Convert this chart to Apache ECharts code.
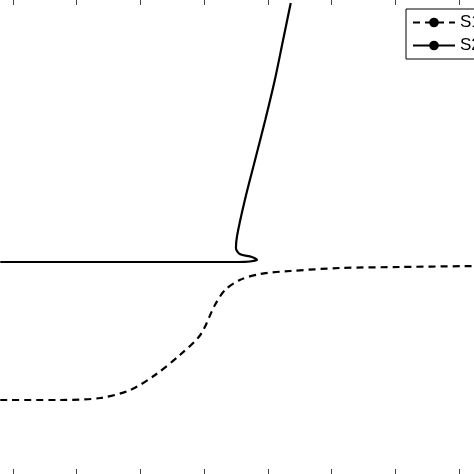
<!DOCTYPE html><html><head><meta charset="utf-8">
<script src="https://cdn.jsdelivr.net/npm/echarts@6/dist/echarts.min.js"></script>
<style>html,body{margin:0;padding:0;background:#fff}#c{width:474px;height:474px}</style></head><body><div id="c"></div>
<script>
const seriesNames=['S1','S2'];
const tickValues=[1,2,3,4,5,6,7,8];
const dashedX=[0.80,1.74,2.37,2.84,3.23,3.62,3.94,4.17,4.33,4.56,4.88,5.35,6.13,7.08,8.24];
const dashedY=[0.74,0.74,0.76,0.84,0.99,1.19,1.39,1.69,1.84,1.94,2.00,2.03,2.06,2.07,2.08];
const solidX=[0.80,4.53,4.72,4.83,4.75,4.56,4.50,4.52,4.64,4.80,4.96,5.11,5.24,5.36];
const solidY=[2.12,2.12,2.125,2.14,2.17,2.20,2.26,2.39,2.74,3.14,3.54,3.94,4.34,4.71];
const zip=(a,b)=>a.map((v,i)=>[v,b[i]]);
const ax={type:'value',min:0.796,max:8.237,axisLine:{show:false},axisLabel:{show:false},splitLine:{show:false},axisTick:{inside:true,length:5,customValues:tickValues,lineStyle:{color:'#444'}}};
const ch=echarts.init(document.getElementById('c'));
ch.setOption({animation:false,
grid:{left:0,top:0,right:0,bottom:0,containLabel:false},
xAxis:[Object.assign({position:'bottom'},ax),Object.assign({position:'top'},ax)],
yAxis:{type:'value',min:0,max:4.74,show:false},
legend:{left:406,top:9,orient:'vertical',itemWidth:42,itemHeight:12,itemGap:6,padding:[5,4,5,6],borderColor:'#000',borderWidth:1,backgroundColor:'#fff',textStyle:{fontFamily:'Liberation Sans',fontSize:17,color:'#000'},data:seriesNames},
series:[
{name:seriesNames[0],type:'line',symbol:'none',smooth:0.3,data:zip(dashedX,dashedY),lineStyle:{color:'#000',width:2.2,type:[7,5]},itemStyle:{color:'#000'}},
{name:seriesNames[1],type:'line',symbol:'none',smooth:0.3,data:zip(solidX,solidY),lineStyle:{color:'#000',width:2.2},itemStyle:{color:'#000'}}
]});
</script></body></html>
